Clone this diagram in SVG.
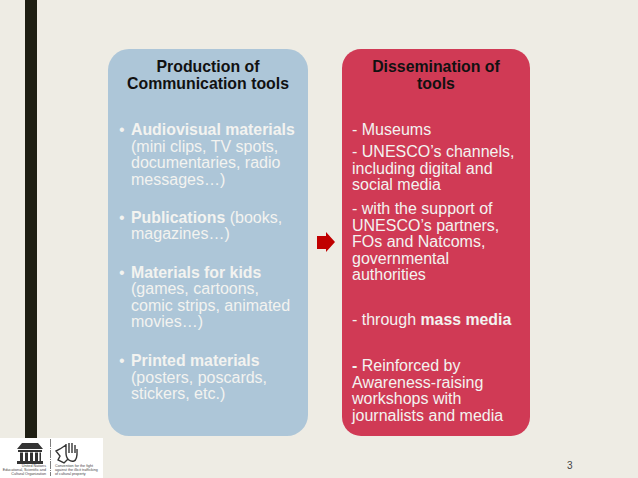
<svg xmlns="http://www.w3.org/2000/svg" width="638" height="478" viewBox="0 0 638 478">
<style>
text{font-family:"Liberation Sans",Arial,sans-serif;font-size:16px}
.h{font-weight:bold;font-size:15.850px;fill:#111;text-anchor:middle}
.w{fill:#f3f3f0}
.b{font-weight:bold;font-size:15.850px}
.s{font-size:3.700px;fill:#444}
.e{text-anchor:end}
</style>
<rect width="638" height="478" fill="#eeece4"/>
<rect x="25" y="0" width="12" height="438" fill="#1e1e12"/>
<g id="logo">
<rect x="0" y="438" width="103" height="40" fill="#fff"/>
<path d="M17 449H43L38 443H22ZM18 450H42V452H18ZM17 461H43V464H17ZM20 452.500H23V461H20ZM25 452.500H28V461H25ZM30 452.500H33V461H30ZM35 452.500H38V461H35ZM39.500 452.500H41V461H39.500Z" fill="#333"/>
<path d="M50.500 439V476" stroke="#444" stroke-width="0.700" stroke-dasharray="8 1 1 1" fill="none"/>
<path d="M66 445 60 449 56 451 60 456 58 460 64 463 68 459M66 453V444M69 453V443M72 453V443M75 453V445M66 453C66 460 71 462 74 461C78 460 77 452 77 449" fill="none" stroke="#333" stroke-width="1.400"/>
<text class="s e" x="46" y="467">United Nations</text>
<text class="s e" x="46" y="470.800">Educational, Scientific and</text>
<text class="s e" x="46" y="474.600">Cultural Organization</text>
<text class="s" x="55" y="467">Convention for the fight</text>
<text class="s" x="55" y="470.800">against the illicit trafficking</text>
<text class="s" x="55" y="474.600">of cultural property</text>
</g>
<g id="production">
<rect x="108" y="49" width="200" height="387" rx="21" fill="#adc6d8"/>
<text class="h" x="208" y="72">Production of</text>
<text class="h" x="208" y="89">Communication tools</text>
<g class="w">
<text x="119" y="135">•</text><text x="131" y="135" class="b">Audiovisual materials</text>
<text x="131" y="152">(mini clips, TV spots,</text>
<text x="131" y="168">documentaries, radio</text>
<text x="131" y="185">messages…)</text>
<text x="119" y="223">•</text><text x="131" y="223"><tspan class="b">Publications</tspan> (books,</text>
<text x="131" y="239">magazines…)</text>
<text x="119" y="278">•</text><text x="131" y="278" class="b">Materials for kids</text>
<text x="131" y="294">(games, cartoons,</text>
<text x="131" y="311">comic strips, animated</text>
<text x="131" y="327">movies…)</text>
<text x="119" y="366">•</text><text x="131" y="366" class="b">Printed materials</text>
<text x="131" y="383">(posters, poscards,</text>
<text x="131" y="399">stickers, etc.)</text>
</g>
</g>
<g id="connectors">
<path d="M317 236H326V232L335 242L326 252V249H317Z" fill="#c00000"/>
</g>
<g id="dissemination">
<rect x="342" y="49" width="188" height="387" rx="19" fill="#d03a55"/>
<text class="h" x="436" y="72">Dissemination of</text>
<text class="h" x="436" y="89">tools</text>
<g class="w">
<text x="352" y="135">- Museums</text>
<text x="352" y="157">- UNESCO’s channels,</text>
<text x="352" y="174">including digital and</text>
<text x="352" y="190">social media</text>
<text x="352" y="214">- with the support of</text>
<text x="352" y="231">UNESCO’s partners,</text>
<text x="352" y="247">FOs and Natcoms,</text>
<text x="352" y="264">governmental</text>
<text x="352" y="280">authorities</text>
<text x="352" y="325">- through <tspan class="b">mass media</tspan></text>
<text x="352" y="371"><tspan class="b">-</tspan> Reinforced by</text>
<text x="352" y="388">Awareness-raising</text>
<text x="352" y="404">workshops with</text>
<text x="352" y="421">journalists and media</text>
</g>
</g>
<text x="567" y="469" style="font-size:10px;fill:#444">3</text>
</svg>
